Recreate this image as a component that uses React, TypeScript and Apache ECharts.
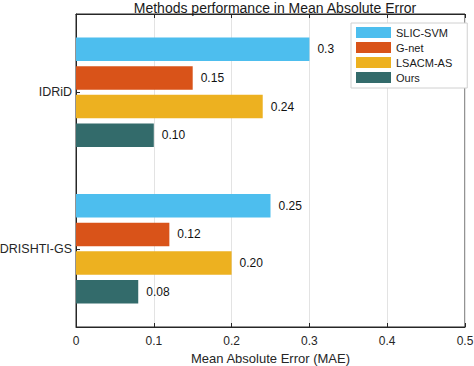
import React, { useEffect, useRef } from "react";
import * as echarts from "echarts";

const categories = ["IDRiD", "DRISHTI-GS"];
const seriesNames = ["SLIC-SVM", "G-net", "LSACM-AS", "Ours"];
const slicSvm = [0.3, 0.25];
const gNet = [0.15, 0.12];
const lsacm = [0.24, 0.2];
const ours = [0.1, 0.08];
const slicSvmLabels = ["0.3", "0.25"];
const gNetLabels = ["0.15", "0.12"];
const lsacmLabels = ["0.24", "0.20"];
const oursLabels = ["0.10", "0.08"];
const xTicks = [0, 0.1, 0.2, 0.3, 0.4, 0.5];
const colors = ["#4DBEEE", "#D95319", "#EDB120", "#336B6B"];

const FONT = "Liberation Sans, Arial, Helvetica, sans-serif";

export default function App() {
  const ref = useRef<HTMLDivElement>(null);
  useEffect(() => {
    if (!ref.current) return;
    const chart = echarts.init(ref.current, null, { renderer: "svg" });
    const values = [slicSvm, gNet, lsacm, ours];
    const labels = [slicSvmLabels, gNetLabels, lsacmLabels, oursLabels];
    chart.setOption({
      animation: false,
      title: {
        text: "Methods performance in Mean Absolute Error",
        left: 270,
        textAlign: "center",
        top: -4,
        textStyle: { fontFamily: FONT, fontSize: 14, fontWeight: "normal", color: "#1a1a1a" },
      },
      grid: {
        left: 76,
        right: 9,
        top: 14,
        bottom: 39,
        outerBoundsMode: "none",
        containLabel: false,
        show: true,
        borderColor: "#262626",
        borderWidth: 1,
        backgroundColor: "transparent",
      },
      legend: {
        data: seriesNames,
        orient: "vertical",
        left: 351,
        top: 23,
        icon: "rect",
        itemWidth: 35,
        itemHeight: 11,
        itemGap: 4,
        padding: [4, 15, 5, 5],
        borderColor: "#d0d0d0",
        borderWidth: 1,
        backgroundColor: "#fff",
        textStyle: { fontFamily: FONT, fontSize: 11, lineHeight: 11, color: "#1a1a1a" },
      },
      xAxis: [
        {
          type: "value",
          min: 0,
          max: 0.5,
          interval: 0.1,
          name: "Mean Absolute Error (MAE)",
          nameLocation: "middle",
          nameGap: 21,
          nameTextStyle: { fontFamily: FONT, fontSize: 13, color: "#262626" },
          axisLine: { show: true, lineStyle: { color: "#262626" } },
          axisTick: { show: true, inside: true, length: 4, lineStyle: { color: "#262626" } },
          axisLabel: {
            fontFamily: FONT,
            fontSize: 12,
            color: "#262626",
            margin: 8,
            formatter: (v: number) => (xTicks.includes(Math.round(v * 10) / 10) ? String(Math.round(v * 10) / 10) : ""),
          },
          splitLine: { show: true, lineStyle: { color: "#e3e3e3" } },
        },
        {
          type: "value",
          position: "top",
          min: 0,
          max: 0.5,
          interval: 0.1,
          axisLine: { show: true, lineStyle: { color: "#262626" } },
          axisTick: { show: true, inside: true, length: 4, lineStyle: { color: "#262626" } },
          axisLabel: { show: false },
          splitLine: { show: false },
        },
      ],
      yAxis: {
        type: "category",
        data: categories,
        inverse: true,
        axisLine: { show: true, lineStyle: { color: "#262626" } },
        axisTick: { show: true, inside: true, alignWithLabel: true, length: 4, lineStyle: { color: "#262626" } },
        axisLabel: { fontFamily: FONT, fontSize: 12.5, color: "#262626", margin: 4 },
      },
      series: seriesNames.map((name, i) => ({
        name,
        type: "bar",
        data: values[i],
        itemStyle: { color: colors[i] },
        barCategoryGap: "30%",
        barGap: "22%",
        label: {
          show: true,
          position: "right",
          distance: 8,
          fontFamily: FONT,
          fontSize: 12,
          color: "#111",
          formatter: (p: any) => labels[i][p.dataIndex],
        },
      })),
    });
    return () => chart.dispose();
  }, []);
  return <div ref={ref} style={{ width: 474, height: 366, position: "absolute", left: 0, top: 0 }} />;
}
